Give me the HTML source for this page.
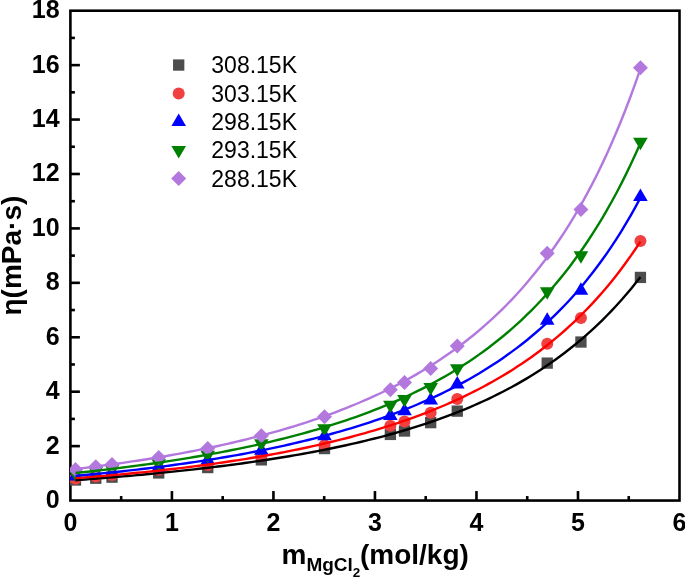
<!DOCTYPE html>
<html><head><meta charset="utf-8"><title>Viscosity of MgCl2 solutions</title>
<style>
html,body{margin:0;padding:0;background:#fff;}
body{width:685px;height:577px;overflow:hidden;}
svg{display:block;}
text{font-family:"Liberation Sans",sans-serif;fill:#000;}
.tk{font-weight:bold;font-size:25px;}
.lg{font-size:23px;}
.ax{font-weight:bold;font-size:28px;}
</style></head><body>
<svg width="685" height="577" viewBox="0 0 685 577">
<rect x="0" y="0" width="685" height="577" fill="#ffffff"/>

<rect x="70.4" y="10.7" width="609.10" height="489.85" fill="none" stroke="#000" stroke-width="2.6"/>
<g stroke="#000" stroke-width="2.6">
<line x1="121.16" y1="500.55" x2="121.16" y2="496.05"/>
<line x1="171.92" y1="500.55" x2="171.92" y2="491.05"/>
<line x1="222.68" y1="500.55" x2="222.68" y2="496.05"/>
<line x1="273.43" y1="500.55" x2="273.43" y2="491.05"/>
<line x1="324.19" y1="500.55" x2="324.19" y2="496.05"/>
<line x1="374.95" y1="500.55" x2="374.95" y2="491.05"/>
<line x1="425.71" y1="500.55" x2="425.71" y2="496.05"/>
<line x1="476.47" y1="500.55" x2="476.47" y2="491.05"/>
<line x1="527.23" y1="500.55" x2="527.23" y2="496.05"/>
<line x1="577.98" y1="500.55" x2="577.98" y2="491.05"/>
<line x1="628.74" y1="500.55" x2="628.74" y2="496.05"/>
<line x1="70.4" y1="473.34" x2="74.90" y2="473.34"/>
<line x1="70.4" y1="446.12" x2="79.90" y2="446.12"/>
<line x1="70.4" y1="418.91" x2="74.90" y2="418.91"/>
<line x1="70.4" y1="391.69" x2="79.90" y2="391.69"/>
<line x1="70.4" y1="364.48" x2="74.90" y2="364.48"/>
<line x1="70.4" y1="337.27" x2="79.90" y2="337.27"/>
<line x1="70.4" y1="310.05" x2="74.90" y2="310.05"/>
<line x1="70.4" y1="282.84" x2="79.90" y2="282.84"/>
<line x1="70.4" y1="255.62" x2="74.90" y2="255.62"/>
<line x1="70.4" y1="228.41" x2="79.90" y2="228.41"/>
<line x1="70.4" y1="201.20" x2="74.90" y2="201.20"/>
<line x1="70.4" y1="173.98" x2="79.90" y2="173.98"/>
<line x1="70.4" y1="146.77" x2="74.90" y2="146.77"/>
<line x1="70.4" y1="119.56" x2="79.90" y2="119.56"/>
<line x1="70.4" y1="92.34" x2="74.90" y2="92.34"/>
<line x1="70.4" y1="65.13" x2="79.90" y2="65.13"/>
<line x1="70.4" y1="37.91" x2="74.90" y2="37.91"/>
</g>
<clipPath id="cp"><rect x="70" y="0" width="615" height="577"/></clipPath>
<g clip-path="url(#cp)">
<rect x="69.83" y="474.35" width="11.3" height="11.3" fill="#4d4d4d"/>
<rect x="90.13" y="472.58" width="11.3" height="11.3" fill="#4d4d4d"/>
<rect x="106.37" y="471.50" width="11.3" height="11.3" fill="#4d4d4d"/>
<rect x="153.07" y="467.31" width="11.3" height="11.3" fill="#4d4d4d"/>
<rect x="202.10" y="461.92" width="11.3" height="11.3" fill="#4d4d4d"/>
<rect x="255.70" y="454.22" width="11.3" height="11.3" fill="#4d4d4d"/>
<rect x="318.85" y="442.92" width="11.3" height="11.3" fill="#4d4d4d"/>
<rect x="384.73" y="428.77" width="11.3" height="11.3" fill="#4d4d4d"/>
<rect x="398.84" y="425.37" width="11.3" height="11.3" fill="#4d4d4d"/>
<rect x="425.03" y="416.99" width="11.3" height="11.3" fill="#4d4d4d"/>
<rect x="451.63" y="405.48" width="11.3" height="11.3" fill="#4d4d4d"/>
<rect x="541.57" y="357.47" width="11.3" height="11.3" fill="#4d4d4d"/>
<rect x="575.28" y="336.38" width="11.3" height="11.3" fill="#4d4d4d"/>
<rect x="634.77" y="271.77" width="11.3" height="11.3" fill="#4d4d4d"/>
<circle cx="75.48" cy="478.78" r="6" fill="#f04040"/>
<circle cx="95.78" cy="476.60" r="6" fill="#f04040"/>
<circle cx="112.02" cy="474.97" r="6" fill="#f04040"/>
<circle cx="158.72" cy="469.80" r="6" fill="#f04040"/>
<circle cx="207.75" cy="464.90" r="6" fill="#f04040"/>
<circle cx="261.35" cy="456.19" r="6" fill="#f04040"/>
<circle cx="324.50" cy="445.12" r="6" fill="#f04040"/>
<circle cx="390.38" cy="425.77" r="6" fill="#f04040"/>
<circle cx="404.49" cy="421.52" r="6" fill="#f04040"/>
<circle cx="430.68" cy="412.65" r="6" fill="#f04040"/>
<circle cx="457.28" cy="399.01" r="6" fill="#f04040"/>
<circle cx="547.22" cy="343.85" r="6" fill="#f04040"/>
<circle cx="580.93" cy="318.05" r="6" fill="#f04040"/>
<circle cx="640.42" cy="240.93" r="6" fill="#f04040"/>
<polygon points="68.18,480.50 82.78,480.50 75.48,468.00" fill="#0000ff"/>
<polygon points="88.48,478.59 103.08,478.59 95.78,466.09" fill="#0000ff"/>
<polygon points="104.72,476.96 119.32,476.96 112.02,464.46" fill="#0000ff"/>
<polygon points="151.42,471.52 166.02,471.52 158.72,459.02" fill="#0000ff"/>
<polygon points="200.45,464.44 215.05,464.44 207.75,451.94" fill="#0000ff"/>
<polygon points="254.05,454.64 268.65,454.64 261.35,442.14" fill="#0000ff"/>
<polygon points="317.20,440.27 331.80,440.27 324.50,427.77" fill="#0000ff"/>
<polygon points="383.08,419.97 397.68,419.97 390.38,407.47" fill="#0000ff"/>
<polygon points="397.19,415.29 411.79,415.29 404.49,402.79" fill="#0000ff"/>
<polygon points="423.38,404.38 437.98,404.38 430.68,391.88" fill="#0000ff"/>
<polygon points="449.98,388.60 464.58,388.60 457.28,376.10" fill="#0000ff"/>
<polygon points="539.92,324.70 554.52,324.70 547.22,312.20" fill="#0000ff"/>
<polygon points="573.63,294.79 588.23,294.79 580.93,282.29" fill="#0000ff"/>
<polygon points="633.12,201.09 647.72,201.09 640.42,188.59" fill="#0000ff"/>
<polygon points="68.18,469.17 82.78,469.17 75.48,481.67" fill="#008000"/>
<polygon points="88.48,466.99 103.08,466.99 95.78,479.49" fill="#008000"/>
<polygon points="104.72,465.09 119.32,465.09 112.02,477.59" fill="#008000"/>
<polygon points="151.42,459.37 166.02,459.37 158.72,471.87" fill="#008000"/>
<polygon points="200.45,450.66 215.05,450.66 207.75,463.16" fill="#008000"/>
<polygon points="254.05,439.23 268.65,439.23 261.35,451.73" fill="#008000"/>
<polygon points="317.20,424.24 331.80,424.24 324.50,436.74" fill="#008000"/>
<polygon points="383.08,400.64 397.68,400.64 390.38,413.14" fill="#008000"/>
<polygon points="397.19,394.93 411.79,394.93 404.49,407.43" fill="#008000"/>
<polygon points="423.38,383.04 437.98,383.04 430.68,395.54" fill="#008000"/>
<polygon points="449.98,364.34 464.58,364.34 457.28,376.84" fill="#008000"/>
<polygon points="539.92,287.35 554.52,287.35 547.22,299.85" fill="#008000"/>
<polygon points="573.63,251.35 588.23,251.35 580.93,263.85" fill="#008000"/>
<polygon points="633.12,137.87 647.72,137.87 640.42,150.37" fill="#008000"/>
<polygon points="67.98,469.42 75.48,461.92 82.98,469.42 75.48,476.92" fill="#b378de"/>
<polygon points="88.28,466.80 95.78,459.30 103.28,466.80 95.78,474.30" fill="#b378de"/>
<polygon points="104.52,464.41 112.02,456.91 119.52,464.41 112.02,471.91" fill="#b378de"/>
<polygon points="151.22,457.61 158.72,450.11 166.22,457.61 158.72,465.11" fill="#b378de"/>
<polygon points="200.25,448.60 207.75,441.10 215.25,448.60 207.75,456.10" fill="#b378de"/>
<polygon points="253.85,435.64 261.35,428.14 268.85,435.64 261.35,443.14" fill="#b378de"/>
<polygon points="317.00,416.65 324.50,409.15 332.00,416.65 324.50,424.15" fill="#b378de"/>
<polygon points="382.88,389.71 390.38,382.21 397.88,389.71 390.38,397.21" fill="#b378de"/>
<polygon points="396.99,382.41 404.49,374.91 411.99,382.41 404.49,389.91" fill="#b378de"/>
<polygon points="423.18,368.51 430.68,361.01 438.18,368.51 430.68,376.01" fill="#b378de"/>
<polygon points="449.78,346.00 457.28,338.50 464.78,346.00 457.28,353.50" fill="#b378de"/>
<polygon points="539.72,253.31 547.22,245.81 554.72,253.31 547.22,260.81" fill="#b378de"/>
<polygon points="573.43,209.52 580.93,202.02 588.43,209.52 580.93,217.02" fill="#b378de"/>
<polygon points="632.92,67.85 640.42,60.35 647.92,67.85 640.42,75.35" fill="#b378de"/>
</g>
<g fill="none" stroke-width="2.4" stroke-linejoin="round">
<path d="M75.48,480.19 L80.22,479.84 L84.97,479.48 L89.72,479.12 L94.47,478.75 L99.21,478.38 L103.96,478.00 L108.71,477.61 L113.46,477.22 L118.20,476.82 L122.95,476.41 L127.70,476.00 L132.44,475.58 L137.19,475.15 L141.94,474.71 L146.69,474.27 L151.43,473.81 L156.18,473.35 L160.93,472.88 L165.68,472.41 L170.42,471.92 L175.17,471.43 L179.92,470.92 L184.67,470.41 L189.41,469.89 L194.16,469.36 L198.91,468.81 L203.66,468.26 L208.40,467.70 L213.15,467.12 L217.90,466.54 L222.65,465.94 L227.39,465.33 L232.14,464.71 L236.89,464.08 L241.63,463.44 L246.38,462.78 L251.13,462.11 L255.88,461.42 L260.62,460.72 L265.37,460.01 L270.12,459.28 L274.87,458.54 L279.61,457.78 L284.36,457.00 L289.11,456.21 L293.86,455.40 L298.60,454.58 L303.35,453.73 L308.10,452.87 L312.85,451.99 L317.59,451.09 L322.34,450.17 L327.09,449.22 L331.84,448.26 L336.58,447.27 L341.33,446.27 L346.08,445.23 L350.82,444.18 L355.57,443.10 L360.32,441.99 L365.07,440.86 L369.81,439.70 L374.56,438.52 L379.31,437.30 L384.06,436.05 L388.80,434.78 L393.55,433.47 L398.30,432.13 L403.05,430.76 L407.79,429.35 L412.54,427.90 L417.29,426.42 L422.04,424.90 L426.78,423.34 L431.53,421.74 L436.28,420.10 L441.03,418.41 L445.77,416.68 L450.52,414.90 L455.27,413.08 L460.01,411.20 L464.76,409.27 L469.51,407.29 L474.26,405.26 L479.00,403.16 L483.75,401.01 L488.50,398.80 L493.25,396.52 L497.99,394.18 L502.74,391.77 L507.49,389.29 L512.24,386.74 L516.98,384.11 L521.73,381.40 L526.48,378.61 L531.23,375.74 L535.97,372.78 L540.72,369.73 L545.47,366.58 L550.22,363.34 L554.96,360.00 L559.71,356.55 L564.46,352.99 L569.21,349.32 L573.95,345.52 L578.70,341.61 L583.45,337.57 L588.19,333.40 L592.94,329.09 L597.69,324.63 L602.44,320.03 L607.18,315.27 L611.93,310.35 L616.68,305.27 L621.43,300.01 L626.17,294.56 L630.92,288.93 L635.67,283.10 L640.42,277.06" stroke="#000000"/>
<path d="M75.48,478.10 L80.22,477.75 L84.97,477.39 L89.72,477.02 L94.47,476.64 L99.21,476.25 L103.96,475.85 L108.71,475.45 L113.46,475.03 L118.20,474.61 L122.95,474.17 L127.70,473.73 L132.44,473.27 L137.19,472.81 L141.94,472.34 L146.69,471.85 L151.43,471.36 L156.18,470.85 L160.93,470.33 L165.68,469.80 L170.42,469.26 L175.17,468.71 L179.92,468.14 L184.67,467.57 L189.41,466.98 L194.16,466.38 L198.91,465.76 L203.66,465.13 L208.40,464.49 L213.15,463.83 L217.90,463.16 L222.65,462.48 L227.39,461.77 L232.14,461.06 L236.89,460.33 L241.63,459.58 L246.38,458.82 L251.13,458.04 L255.88,457.24 L260.62,456.42 L265.37,455.59 L270.12,454.74 L274.87,453.87 L279.61,452.98 L284.36,452.07 L289.11,451.14 L293.86,450.19 L298.60,449.22 L303.35,448.23 L308.10,447.21 L312.85,446.18 L317.59,445.12 L322.34,444.03 L327.09,442.92 L331.84,441.79 L336.58,440.63 L341.33,439.44 L346.08,438.22 L350.82,436.98 L355.57,435.71 L360.32,434.41 L365.07,433.07 L369.81,431.71 L374.56,430.31 L379.31,428.88 L384.06,427.42 L388.80,425.92 L393.55,424.38 L398.30,422.81 L403.05,421.20 L407.79,419.55 L412.54,417.85 L417.29,416.12 L422.04,414.34 L426.78,412.51 L431.53,410.64 L436.28,408.72 L441.03,406.75 L445.77,404.73 L450.52,402.66 L455.27,400.53 L460.01,398.34 L464.76,396.10 L469.51,393.79 L474.26,391.42 L479.00,388.99 L483.75,386.49 L488.50,383.91 L493.25,381.27 L497.99,378.55 L502.74,375.75 L507.49,372.87 L512.24,369.91 L516.98,366.86 L521.73,363.72 L526.48,360.48 L531.23,357.15 L535.97,353.71 L540.72,350.17 L545.47,346.52 L550.22,342.76 L554.96,338.87 L559.71,334.86 L564.46,330.73 L569.21,326.46 L573.95,322.04 L578.70,317.48 L583.45,312.77 L588.19,307.90 L592.94,302.87 L597.69,297.66 L602.44,292.27 L607.18,286.69 L611.93,280.91 L616.68,274.93 L621.43,268.73 L626.17,262.30 L630.92,255.64 L635.67,248.73 L640.42,241.56" stroke="#ff0000"/>
<path d="M75.48,475.83 L80.22,475.41 L84.97,474.98 L89.72,474.55 L94.47,474.10 L99.21,473.64 L103.96,473.17 L108.71,472.69 L113.46,472.20 L118.20,471.70 L122.95,471.19 L127.70,470.67 L132.44,470.13 L137.19,469.59 L141.94,469.03 L146.69,468.46 L151.43,467.88 L156.18,467.29 L160.93,466.69 L165.68,466.07 L170.42,465.44 L175.17,464.79 L179.92,464.13 L184.67,463.46 L189.41,462.77 L194.16,462.07 L198.91,461.36 L203.66,460.63 L208.40,459.88 L213.15,459.12 L217.90,458.34 L222.65,457.55 L227.39,456.73 L232.14,455.91 L236.89,455.06 L241.63,454.20 L246.38,453.32 L251.13,452.42 L255.88,451.50 L260.62,450.56 L265.37,449.60 L270.12,448.62 L274.87,447.62 L279.61,446.60 L284.36,445.56 L289.11,444.49 L293.86,443.40 L298.60,442.29 L303.35,441.15 L308.10,439.99 L312.85,438.80 L317.59,437.59 L322.34,436.35 L327.09,435.08 L331.84,433.78 L336.58,432.46 L341.33,431.10 L346.08,429.71 L350.82,428.30 L355.57,426.84 L360.32,425.36 L365.07,423.84 L369.81,422.28 L374.56,420.69 L379.31,419.06 L384.06,417.39 L388.80,415.68 L393.55,413.93 L398.30,412.14 L403.05,410.30 L407.79,408.42 L412.54,406.49 L417.29,404.51 L422.04,402.47 L426.78,400.39 L431.53,398.25 L436.28,396.06 L441.03,393.81 L445.77,391.50 L450.52,389.12 L455.27,386.68 L460.01,384.18 L464.76,381.60 L469.51,378.96 L474.26,376.24 L479.00,373.44 L483.75,370.56 L488.50,367.59 L493.25,364.54 L497.99,361.40 L502.74,358.17 L507.49,354.83 L512.24,351.40 L516.98,347.86 L521.73,344.20 L526.48,340.44 L531.23,336.55 L535.97,332.54 L540.72,328.39 L545.47,324.11 L550.22,319.69 L554.96,315.12 L559.71,310.39 L564.46,305.51 L569.21,300.45 L573.95,295.21 L578.70,289.79 L583.45,284.18 L588.19,278.36 L592.94,272.33 L597.69,266.07 L602.44,259.58 L607.18,252.85 L611.93,245.86 L616.68,238.60 L621.43,231.05 L626.17,223.21 L630.92,215.05 L635.67,206.57 L640.42,197.73" stroke="#0000ff"/>
<path d="M75.48,473.03 L80.22,472.53 L84.97,472.02 L89.72,471.49 L94.47,470.96 L99.21,470.42 L103.96,469.86 L108.71,469.30 L113.46,468.72 L118.20,468.14 L122.95,467.54 L127.70,466.93 L132.44,466.31 L137.19,465.68 L141.94,465.03 L146.69,464.37 L151.43,463.70 L156.18,463.02 L160.93,462.32 L165.68,461.61 L170.42,460.89 L175.17,460.15 L179.92,459.40 L184.67,458.63 L189.41,457.85 L194.16,457.05 L198.91,456.24 L203.66,455.40 L208.40,454.56 L213.15,453.69 L217.90,452.81 L222.65,451.91 L227.39,450.99 L232.14,450.05 L236.89,449.09 L241.63,448.12 L246.38,447.12 L251.13,446.10 L255.88,445.06 L260.62,444.00 L265.37,442.91 L270.12,441.80 L274.87,440.67 L279.61,439.52 L284.36,438.33 L289.11,437.13 L293.86,435.89 L298.60,434.63 L303.35,433.34 L308.10,432.02 L312.85,430.67 L317.59,429.29 L322.34,427.87 L327.09,426.43 L331.84,424.95 L336.58,423.44 L341.33,421.89 L346.08,420.30 L350.82,418.68 L355.57,417.02 L360.32,415.31 L365.07,413.57 L369.81,411.78 L374.56,409.94 L379.31,408.07 L384.06,406.14 L388.80,404.16 L393.55,402.14 L398.30,400.06 L403.05,397.92 L407.79,395.73 L412.54,393.49 L417.29,391.18 L422.04,388.81 L426.78,386.38 L431.53,383.88 L436.28,381.31 L441.03,378.66 L445.77,375.95 L450.52,373.16 L455.27,370.28 L460.01,367.33 L464.76,364.29 L469.51,361.16 L474.26,357.94 L479.00,354.62 L483.75,351.20 L488.50,347.68 L493.25,344.05 L497.99,340.31 L502.74,336.45 L507.49,332.47 L512.24,328.37 L516.98,324.13 L521.73,319.76 L526.48,315.24 L531.23,310.58 L535.97,305.77 L540.72,300.79 L545.47,295.64 L550.22,290.32 L554.96,284.82 L559.71,279.13 L564.46,273.24 L569.21,267.14 L573.95,260.82 L578.70,254.28 L583.45,247.51 L588.19,240.48 L592.94,233.20 L597.69,225.65 L602.44,217.81 L607.18,209.68 L611.93,201.24 L616.68,192.47 L621.43,183.36 L626.17,173.90 L630.92,164.06 L635.67,153.83 L640.42,143.19" stroke="#008000"/>
<path d="M75.48,468.96 L80.22,468.41 L84.97,467.84 L89.72,467.25 L94.47,466.66 L99.21,466.05 L103.96,465.43 L108.71,464.80 L113.46,464.16 L118.20,463.50 L122.95,462.82 L127.70,462.14 L132.44,461.43 L137.19,460.72 L141.94,459.99 L146.69,459.24 L151.43,458.48 L156.18,457.70 L160.93,456.91 L165.68,456.10 L170.42,455.27 L175.17,454.42 L179.92,453.56 L184.67,452.68 L189.41,451.78 L194.16,450.86 L198.91,449.92 L203.66,448.97 L208.40,447.99 L213.15,446.99 L217.90,445.97 L222.65,444.93 L227.39,443.87 L232.14,442.78 L236.89,441.67 L241.63,440.54 L246.38,439.38 L251.13,438.20 L255.88,436.99 L260.62,435.76 L265.37,434.49 L270.12,433.20 L274.87,431.89 L279.61,430.54 L284.36,429.16 L289.11,427.75 L293.86,426.31 L298.60,424.84 L303.35,423.33 L308.10,421.79 L312.85,420.22 L317.59,418.60 L322.34,416.95 L327.09,415.26 L331.84,413.53 L336.58,411.76 L341.33,409.95 L346.08,408.09 L350.82,406.19 L355.57,404.24 L360.32,402.24 L365.07,400.19 L369.81,398.09 L374.56,395.94 L379.31,393.73 L384.06,391.47 L388.80,389.15 L393.55,386.76 L398.30,384.32 L403.05,381.81 L407.79,379.23 L412.54,376.58 L417.29,373.86 L422.04,371.06 L426.78,368.19 L431.53,365.24 L436.28,362.20 L441.03,359.07 L445.77,355.86 L450.52,352.55 L455.27,349.14 L460.01,345.63 L464.76,342.02 L469.51,338.30 L474.26,334.46 L479.00,330.51 L483.75,326.43 L488.50,322.22 L493.25,317.88 L497.99,313.40 L502.74,308.78 L507.49,304.00 L512.24,299.07 L516.98,293.97 L521.73,288.70 L526.48,283.24 L531.23,277.60 L535.97,271.77 L540.72,265.72 L545.47,259.47 L550.22,252.99 L554.96,246.27 L559.71,239.30 L564.46,232.08 L569.21,224.59 L573.95,216.82 L578.70,208.74 L583.45,200.36 L588.19,191.65 L592.94,182.59 L597.69,173.18 L602.44,163.38 L607.18,153.19 L611.93,142.58 L616.68,131.53 L621.43,120.01 L626.17,108.01 L630.92,95.49 L635.67,82.43 L640.42,68.80" stroke="#b378de"/>
</g>
<text class="tk" x="70.40" y="531" text-anchor="middle">0</text>
<text class="tk" x="171.92" y="531" text-anchor="middle">1</text>
<text class="tk" x="273.43" y="531" text-anchor="middle">2</text>
<text class="tk" x="374.95" y="531" text-anchor="middle">3</text>
<text class="tk" x="476.47" y="531" text-anchor="middle">4</text>
<text class="tk" x="577.98" y="531" text-anchor="middle">5</text>
<text class="tk" x="679.50" y="531" text-anchor="middle">6</text>
<text class="tk" x="59.6" y="507.95" text-anchor="end">0</text>
<text class="tk" x="59.6" y="453.52" text-anchor="end">2</text>
<text class="tk" x="59.6" y="399.09" text-anchor="end">4</text>
<text class="tk" x="59.6" y="344.67" text-anchor="end">6</text>
<text class="tk" x="59.6" y="290.24" text-anchor="end">8</text>
<text class="tk" x="59.6" y="235.81" text-anchor="end">10</text>
<text class="tk" x="59.6" y="181.38" text-anchor="end">12</text>
<text class="tk" x="59.6" y="126.96" text-anchor="end">14</text>
<text class="tk" x="59.6" y="72.53" text-anchor="end">16</text>
<text class="tk" x="59.6" y="18.10" text-anchor="end">18</text>
<rect x="173.05" y="59.40" width="11.3" height="11.3" fill="#4d4d4d"/>
<text class="lg" x="211.3" y="73.35">308.15K</text>
<circle cx="178.70" cy="93.40" r="6" fill="#f04040"/>
<text class="lg" x="211.3" y="101.70">303.15K</text>
<polygon points="171.40,125.92 186.00,125.92 178.70,113.42" fill="#0000ff"/>
<text class="lg" x="211.3" y="130.05">298.15K</text>
<polygon points="171.40,145.93 186.00,145.93 178.70,158.43" fill="#008000"/>
<text class="lg" x="211.3" y="158.40">293.15K</text>
<polygon points="171.20,178.45 178.70,170.95 186.20,178.45 178.70,185.95" fill="#b378de"/>
<text class="lg" x="211.3" y="186.75">288.15K</text>
<text class="ax" x="281.5" y="563.9">m<tspan font-size="19" dy="7.5">MgCl</tspan><tspan font-size="13.5" dy="5.6">2</tspan><tspan dy="-13.1" dx="-0.4">(mol/kg)</tspan></text>
<text class="ax" transform="translate(20.8,255.6) rotate(-90)" text-anchor="middle">η(mPa·s)</text>
</svg></body></html>
